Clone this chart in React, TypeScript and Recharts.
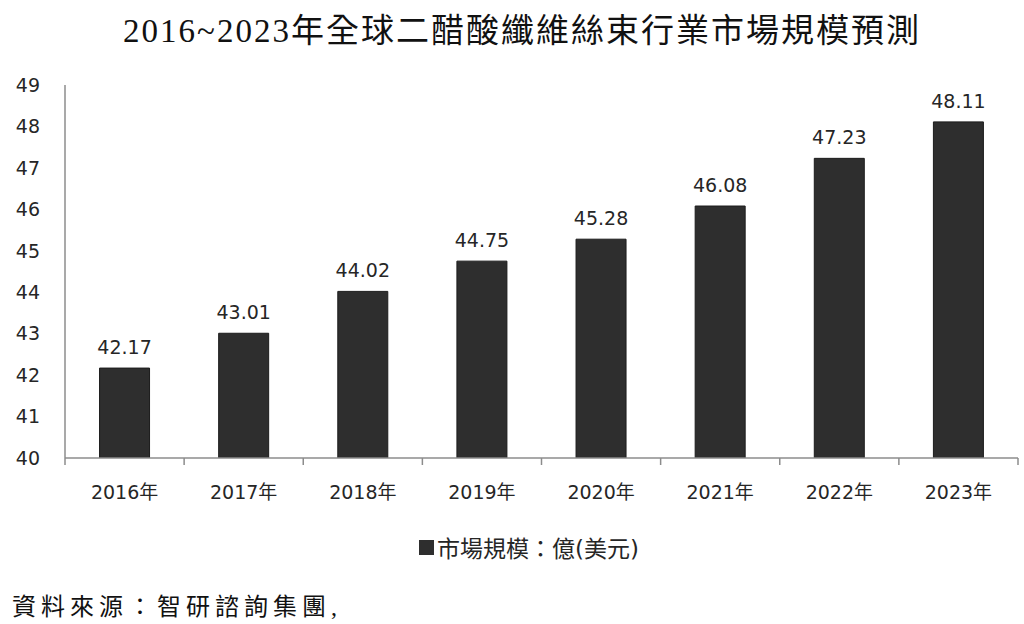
import React from 'react';
import { BarChart, Bar, XAxis, YAxis, Legend, LabelList } from 'recharts';

const years = ['2016年', '2017年', '2018年', '2019年', '2020年', '2021年', '2022年', '2023年'];
const marketSize = [42.17, 43.01, 44.02, 44.75, 45.28, 46.08, 47.23, 48.11];
const yTicks = [40, 41, 42, 43, 44, 45, 46, 47, 48, 49];

const data = years.map((year, i) => ({ year, value: marketSize[i] }));

const CHART_W = 1024;
const PLOT_LEFT = 65;
const PLOT_RIGHT = 6;
const band = (CHART_W - PLOT_LEFT - PLOT_RIGHT) / years.length;

const axisColor = '#8c8c8c';
const textColor = '#262626';
const sansFont = '"DejaVu Sans", Verdana, "Noto Sans CJK TC", sans-serif';

const XTick = ({ x, y, payload, index }: any) => (
    <g>
        <line x1={x - band / 2} y1={y} x2={x - band / 2} y2={y + 7} stroke={axisColor} strokeWidth={1.5} />
        {index === years.length - 1 && (
            <line x1={x + band / 2} y1={y} x2={x + band / 2} y2={y + 7} stroke={axisColor} strokeWidth={1.5} />
        )}
        <text x={x} y={y + 41} textAnchor="middle" fill={textColor} fontSize={19} fontFamily={sansFont}>
            {payload.value}
        </text>
    </g>
);

const LegendContent = () => (
    <div style={{ display: 'flex', justifyContent: 'center', alignItems: 'center', fontFamily: sansFont, fontSize: 23, color: textColor }}>
        <span style={{ display: 'inline-block', width: 15, height: 15, background: '#2e2e2e', marginRight: 3 }} />
        <span>市場規模：億(美元)</span>
    </div>
);

export default function App() {
    return (
        <div style={{ position: 'absolute', left: 0, top: 0, width: 1024, height: 624, background: '#fff' }}>
            <div style={{
                position: 'absolute', top: 4, left: 0, width: 1044, textAlign: 'center',
                fontFamily: '"Liberation Serif", "Noto Sans CJK TC", serif', fontSize: 33, color: '#111', letterSpacing: 2,
            }}>
                2016~2023年全球二醋酸纖維絲束行業市場規模預測
            </div>
            <div style={{ position: 'absolute', top: 0, left: 0 }}>
                <BarChart
                    width={CHART_W}
                    height={580}
                    data={data}
                    margin={{ top: 85, right: PLOT_RIGHT, left: 0, bottom: 38 }}
                    barCategoryGap="29%"
                >
                    <XAxis
                        dataKey="year"
                        axisLine={{ stroke: axisColor, strokeWidth: 1.5 }}
                        tickLine={false}
                        tickSize={0}
                        tickMargin={0}
                        tick={<XTick />}
                        height={50}
                        interval={0}
                    />
                    <YAxis
                        domain={[40, 49]}
                        ticks={yTicks}
                        width={PLOT_LEFT}
                        axisLine={{ stroke: axisColor, strokeWidth: 1.5 }}
                        tickLine={false}
                        tickSize={0}
                        tickMargin={25}
                        tick={{ fill: textColor, fontSize: 19, fontFamily: sansFont }}
                        allowDataOverflow
                    />
                    <Legend verticalAlign="bottom" content={<LegendContent />} wrapperStyle={{ top: 530, left: 17, width: 1024 }} />
                    <Bar dataKey="value" fill="#2e2e2e" stroke="#1c1c1c" strokeWidth={1} isAnimationActive={false}>
                        <LabelList dataKey="value" position="top" offset={14} fill={textColor} fontSize={19} fontFamily={sansFont} />
                    </Bar>
                </BarChart>
            </div>
            <div style={{
                position: 'absolute', top: 587, left: 12,
                fontFamily: '"Liberation Serif", "Noto Sans CJK TC", serif', fontSize: 24, color: '#111', letterSpacing: 5,
            }}>
                資料來源：智研諮詢集團,
            </div>
        </div>
    );
}
